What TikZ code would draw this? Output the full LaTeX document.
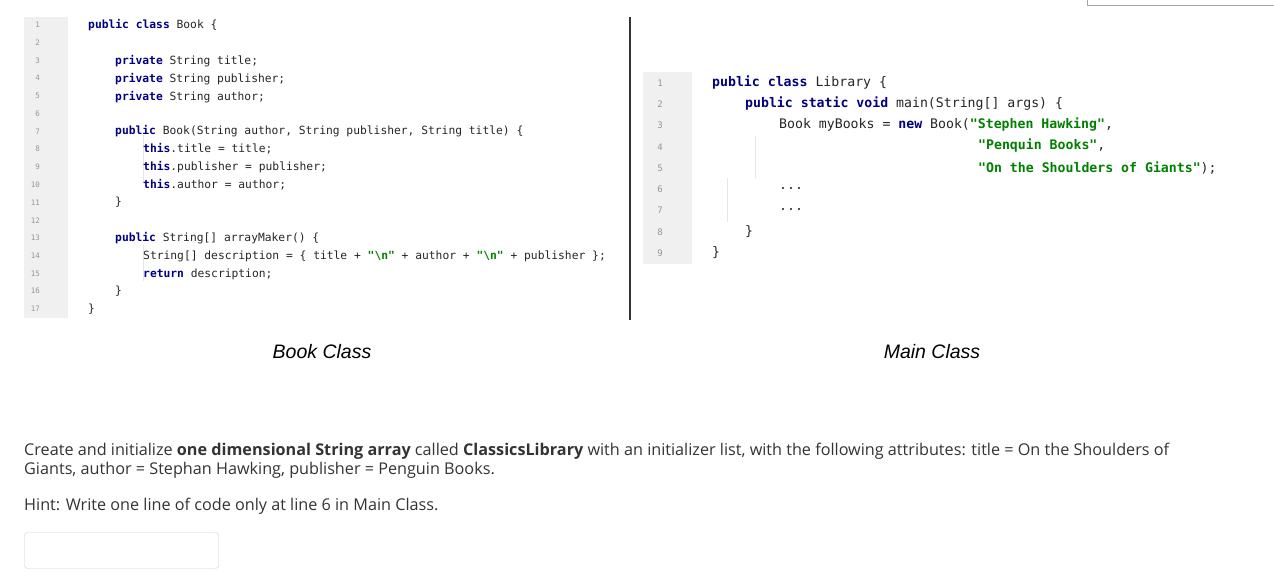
\documentclass[tikz,border=0pt]{standalone}
\usepackage{fontspec}
\setmainfont{Open Sans}
\setsansfont{Liberation Sans}
\setmonofont{DejaVu Sans Mono}
\usetikzlibrary{positioning}
\definecolor{kw}{RGB}{0,0,128}
\definecolor{str}{RGB}{0,128,0}
\definecolor{gut}{RGB}{240,240,240}
\definecolor{lnum}{RGB}{150,150,150}
\begin{document}
\begin{tikzpicture}[x=1pt,y=-1pt,
  lcode/.style={anchor=west,inner sep=0pt,font=\ttfamily\fontsize{11.3}{12}\selectfont,text=black!85},
  rcode/.style={anchor=west,inner sep=0pt,font=\ttfamily\fontsize{13.2}{14}\selectfont,text=black!85},
  lnl/.style={anchor=east,inner sep=0pt,font=\ttfamily\fontsize{7.5}{8}\selectfont,text=lnum},
  lnr/.style={anchor=east,inner sep=0pt,font=\ttfamily\fontsize{9}{10}\selectfont,text=lnum},
  captxt/.style={font=\sffamily\itshape\fontsize{19.5}{22}\selectfont},
  body/.style={anchor=west,inner sep=0pt,font=\fontsize{16.2}{18}\selectfont,text=black!80}]
\newcommand{\K}[1]{\textcolor{kw}{\textbf{#1}}}
\newcommand{\St}[1]{\textcolor{str}{\textbf{#1}}}
\useasboundingbox (0,0) rectangle (1274,586);
% top right box
\draw[black!35] (1087,-3) -- (1087,5) -- (1280,5);
% left gutter
\fill[gut] (24,17) rectangle (68,318);
\foreach \n [count=\i] in {1,...,17} {\node[lnl] (ln\i) at (40,{25+(\i-1)*17.75}) {\n};}
\draw[black!10] (143,135) -- (143,183) (143,245) -- (143,281);
\node[lcode] (l1) at (88,25) {\K{public class} Book \{};
\node[lcode] (l3) at (115,61) {\K{private} String title;};
\node[lcode] (l4) at (115,79) {\K{private} String publisher;};
\node[lcode] (l5) at (115,97) {\K{private} String author;};
\node[lcode] (l7) at (115,131) {\K{public} Book(String author, String publisher, String title) \{};
\node[lcode] (l8) at (143,149) {\K{this}.title = title;};
\node[lcode] (l9) at (143,167) {\K{this}.publisher = publisher;};
\node[lcode] (l10) at (143,185) {\K{this}.author = author;};
\node[lcode] (l11) at (115,202) {\}};
\node[lcode] (l13) at (115,238) {\K{public} String[] arrayMaker() \{};
\node[lcode] (l14) at (143,256) {String[] description = \{ title + \St{"\textbackslash n"} + author + \St{"\textbackslash n"} + publisher \};};
\node[lcode] (l15) at (143,274) {\K{return} description;};
\node[lcode] (l16) at (115,291) {\}};
\node[lcode] (l17) at (88,309) {\}};
% divider
\draw[black!80,line width=1.2pt] (630,17) -- (630,320);
% right gutter
\fill[gut] (643,72) rectangle (692,264);
\foreach \n [count=\i] in {1,...,9} {\node[lnr] (rn\i) at (663,{83+(\i-1)*21.25}) {\n};}
\draw[black!10] (755,136) -- (755,178) (727,178) -- (727,222);
\node[rcode] (r1) at (712,83) {\K{public class} Library \{};
\node[rcode] (r2) at (745,104) {\K{public static void} main(String[] args) \{};
\node[rcode] (r3) at (779,125) {Book myBooks = \K{new} Book(\St{"Stephen Hawking"},};
\node[rcode] (r4) at (978,146) {\St{"Penquin Books"},};
\node[rcode] (r5) at (978,168) {\St{"On the Shoulders of Giants"});};
\node[rcode] (r6) at (779,189) {...};
\node[rcode] (r7) at (779,210) {...};
\node[rcode] (r8) at (745,232) {\}};
\node[rcode] (r9) at (712,253) {\}};
% captions
\node[captxt] (c1) at (322,352) {Book Class};
\node[captxt] (c2) at (932,352) {Main Class};
% question
\node[body] (q1) at (24,451) {Create and initialize \textbf{one dimensional String array} called \textbf{ClassicsLibrary} with an initializer list, with the following attributes: title = On the Shoulders of};
\node[body] (q2) at (24,470) {Giants, author = Stephan Hawking, publisher = Penguin Books.};
\node[body] (q3) at (24,506) {Hint: Write one line of code only at line 6 in Main Class.};
\draw[black!20,rounded corners=3pt] (24.5,532.5) rectangle (218.5,568.5);
\end{tikzpicture}
\end{document}
